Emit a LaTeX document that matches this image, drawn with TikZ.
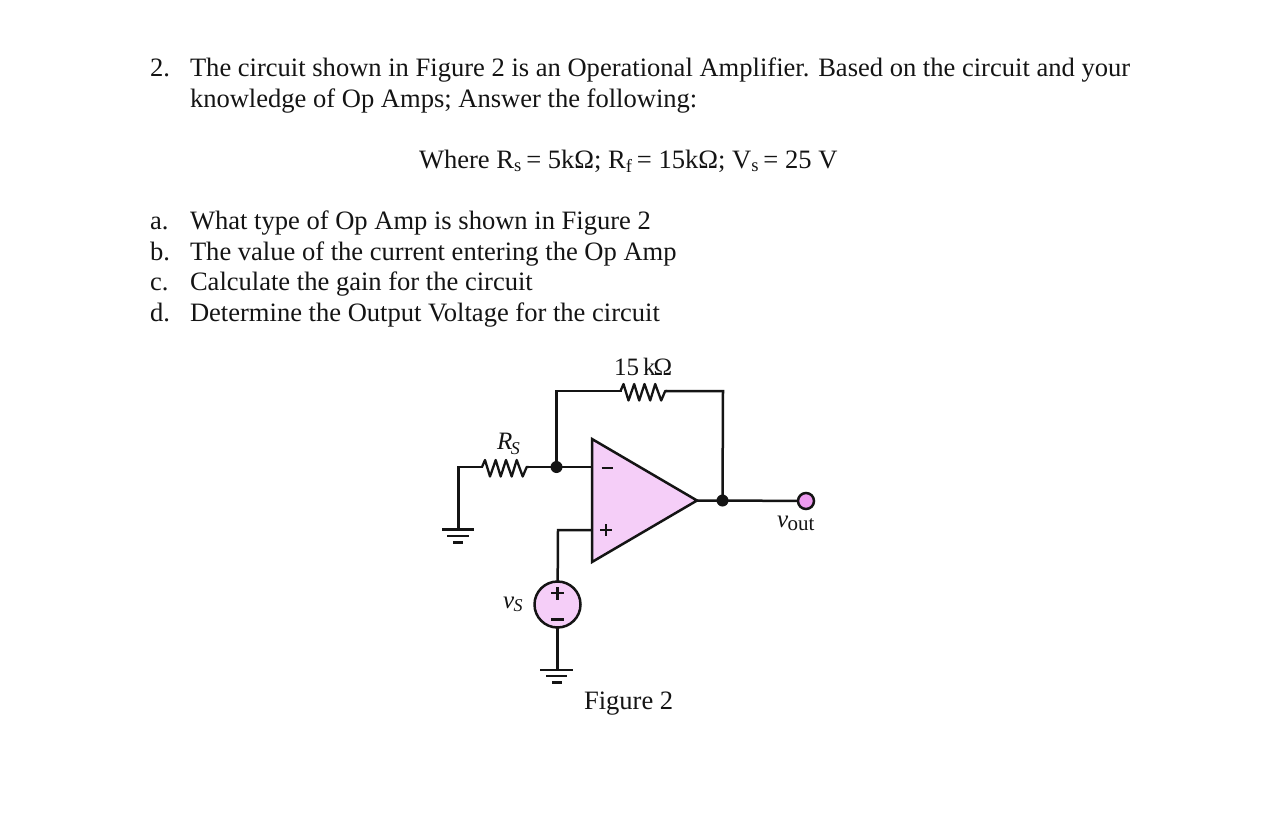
\documentclass[tikz,border=0pt]{standalone}
\usepackage{fontspec}
\setmainfont{Liberation Serif}
\definecolor{pinkfill}{RGB}{245,206,248}
\definecolor{termfill}{RGB}{238,155,240}
\definecolor{ink}{RGB}{20,20,20}
\tikzset{
  txt/.style={anchor=base west,inner sep=0pt,outer sep=0pt,text=ink,font=\fontsize{26.55}{26.55}\selectfont},
  lab/.style={anchor=base west,inner sep=0pt,outer sep=0pt,text=ink,font=\fontsize{21}{21}\selectfont},
  wire/.style={draw=ink,line width=2.5pt,line cap=rect,line join=miter},
  junction/.style={circle,fill=ink,inner sep=0pt,minimum size=12pt},
  terminal/.style={circle,draw=ink,line width=2.5pt,fill=termfill,inner sep=0pt,minimum size=16pt},
  source/.style={circle,draw=ink,line width=2.5pt,fill=pinkfill,inner sep=0pt,minimum size=46pt},
}
\newcommand{\zigres}[1]{%
  \draw[draw=ink,line width=2.3pt,line cap=butt,line join=round] (#1) -- ++(3,-7) -- ++(5,16.5) -- ++(5.7,-16.5) -- ++(5,16.5) -- ++(5.3,-16.5) -- ++(5.7,16.5) -- ++(5,-16.5) -- ++(6,16.5) -- ++(4,-9.5) -- ++(2,0);}
\begin{document}
\begin{tikzpicture}[x=1pt,y=-1pt]
\useasboundingbox (0,0) rectangle (1276,812);
\fill[white] (0,0) rectangle (1276,812);
% text
\node[txt] (t1) at (150,76) {2.};
\node[txt] (t1b) at (190,76) {The circuit shown in Figure 2 is an Operational Amplifier. Based on the circuit and your};
\node[txt] (t2) at (190,107) {knowledge of Op Amps; Answer the following:};
\node[txt] (t3) at (419,168) {Where R\textsubscript{s}\,= 5kΩ; R\textsubscript{f}\,= 15kΩ; V\textsubscript{s}\,= 25 V};
\node[txt] (ta) at (150,229) {a.};
\node[txt] (tax) at (190,229) {What type of Op Amp is shown in Figure 2};
\node[txt] (tb) at (150,260) {b.};
\node[txt] (tbx) at (190,260) {The value of the current entering the Op Amp};
\node[txt] (tc) at (150,290) {c.};
\node[txt] (tcx) at (190,290) {Calculate the gain for the circuit};
\node[txt] (td) at (150,321) {d.};
\node[txt] (tdx) at (190,321) {Determine the Output Voltage for the circuit};
\node[txt] (fig) at (584,709) {Figure 2};
% coordinates
\coordinate (rfL) at (620.5,391);
\coordinate (rfR) at (667,391);
\coordinate (rsL) at (482,467);
\coordinate (rsR) at (528,467);
\coordinate (tl) at (556.5,391);
\coordinate (tr) at (723,391);
\coordinate (gl) at (458.5,467);
\coordinate (g1) at (458.5,529.5);
\coordinate (g2) at (557.5,670);
\coordinate (inm) at (592,467);
\coordinate (inp) at (592,530);
\coordinate (cp) at (558,530);
\coordinate (tip) at (697,500.5);
% wires
\node[junction] (j1) at (556.5,467) {};
\node[junction] (j2) at (722.5,500.5) {};
\node[terminal] (vo) at (806,501) {};
\node[source] (vs) at (557.5,604.5) {};
\draw[wire] (j1) -- (tl) -- (rfL);
\draw[wire] (rfR) -- (tr) -- (j2);
\draw[wire] (g1) -- (gl) -- (rsL);
\draw[wire] (rsR) -- (j1) -- (inm);
\draw[wire] (tip) -- (j2) -- (vo);
\draw[wire] (inp) -- (cp) -- (vs);
\draw[wire] (vs) -- (g2);
\zigres{rfL}
\zigres{rsL}
% op amp
\draw[wire,fill=pinkfill,line join=miter] (592,439) -- (tip) -- (592,562) -- cycle;
\draw[draw=ink,line width=2.5pt] (601.5,468) -- (613,468);
\draw[draw=ink,line width=2.5pt] (600,530) -- (612,530) (606,524) -- (606,536);
% source signs
\draw[draw=ink,line width=2.2pt] (551,593) -- (564,593) (557.5,587) -- (557.5,599.5);
\draw[draw=ink,line width=2.5pt] (551,619.5) -- (564,619.5);
% grounds
\draw[draw=ink,line width=2.5pt] (442,529.5) -- (474,529.5) (447,536) -- (469,536);
\draw[draw=ink,line width=3pt] (453,542) -- (463,542);
\draw[draw=ink,line width=2.5pt] (540,670) -- (573,670) (546,676) -- (567,676);
\draw[draw=ink,line width=3pt] (552,682) -- (562,682);
% labels
\node[lab] (l15) at (614,375) {\fontsize{25}{25}\selectfont 15\,k\kern-2ptΩ};
\node[lab] (lrs) at (497,449) {\fontsize{25}{25}\selectfont\textit{R}\kern-1.5pt\raisebox{-5pt}{\fontsize{18}{18}\selectfont\textit{S}}};
\node[lab] (lvs) at (503,608) {\fontsize{25}{25}\selectfont\textit{v}\kern-0.5pt\raisebox{-3pt}{\fontsize{18}{18}\selectfont\textit{S}}};
\node[lab] (lvo) at (777,527) {\fontsize{25}{25}\selectfont\textit{v}\kern-0.5pt\raisebox{-3pt}{\fontsize{21}{21}\selectfont out}};
\end{tikzpicture}
\end{document}
